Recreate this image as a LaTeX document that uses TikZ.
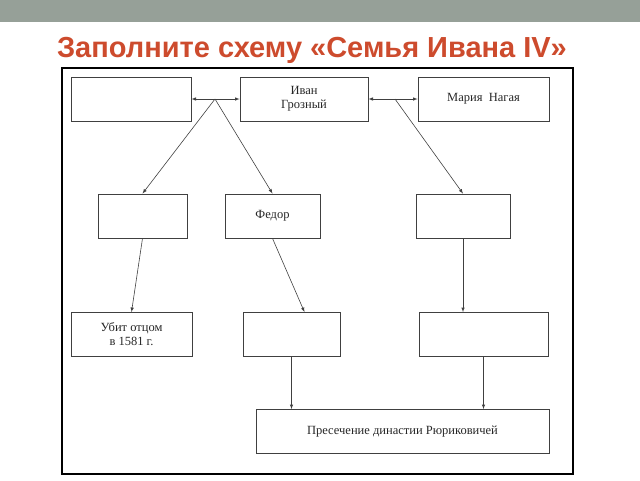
\documentclass[tikz,border=0pt]{standalone}
\usetikzlibrary{calc}
\usepackage{fontspec}
\setmainfont{Liberation Serif}
\newfontfamily\titlefont{Liberation Sans}
\definecolor{titlered}{RGB}{205,75,45}
\definecolor{barcol}{RGB}{150,160,152}
\begin{document}
\begin{tikzpicture}[x=1pt,y=-1pt,
  bx/.style={draw=black!75,line width=0.8pt,minimum height=44pt,inner sep=0pt,align=center,font=\fontsize{12.5}{14}\selectfont,text=black!85},
  con/.style={draw=black!75,line width=0.6pt,-latex},
  mar/.style={draw=black!75,line width=0.6pt,latex-latex}]
\useasboundingbox (0,0) rectangle (640,480);
\fill[barcol] (0,0) rectangle (640,22);
\node[font=\titlefont\bfseries\fontsize{29}{32}\selectfont,text=titlered] (title) at (312,50) {Заполните схему «Семья Ивана IV»};
\draw[line width=2.5pt] (62,68) rectangle (573,474);
\node[bx,minimum width=120pt] (a) at (131,99) {};
\node[bx,minimum width=128pt] (ivan) at (304,99) {Иван\\Грозный};
\node[bx,minimum width=131pt] (maria) at (483.5,99) {Мария\ \ Нагая};
\node[bx,minimum width=89pt] (c1) at (142.5,216) {};
\node[bx,minimum width=95pt] (fedor) at (272.5,216) {Федор};
\node[bx,minimum width=94pt] (c3) at (463,216) {};
\node[bx,minimum width=121pt] (ubit) at (131.5,334.5) {Убит отцом\\в 1581 г.};
\node[bx,minimum width=97pt] (b) at (291.5,334.5) {};
\node[bx,minimum width=129pt] (c) at (483.5,334.5) {};
\node[bx,minimum width=293pt] (end) at (402.5,431.5) {Пресечение династии Рюриковичей};
\coordinate (j1) at (215,99);
\coordinate (j2) at (395,99);
\draw[mar] (a.east) -- (ivan.west);
\draw[mar] (ivan.east) -- (maria.west);
\draw[con] (j1) -- (c1.north);
\draw[con] (j1) -- (fedor.north);
\draw[con] (j2) -- (c3.north);
\draw[con] (c1.south) -- (ubit.north);
\draw[con] (fedor.south) -- ($(b.north)+(13,0)$);
\draw[con] (c3.south) -- (c3.south |- c.north);
\draw[con] (b.south) -- (b.south |- end.north);
\draw[con] (c.south) -- (c.south |- end.north);
\end{tikzpicture}
\end{document}
